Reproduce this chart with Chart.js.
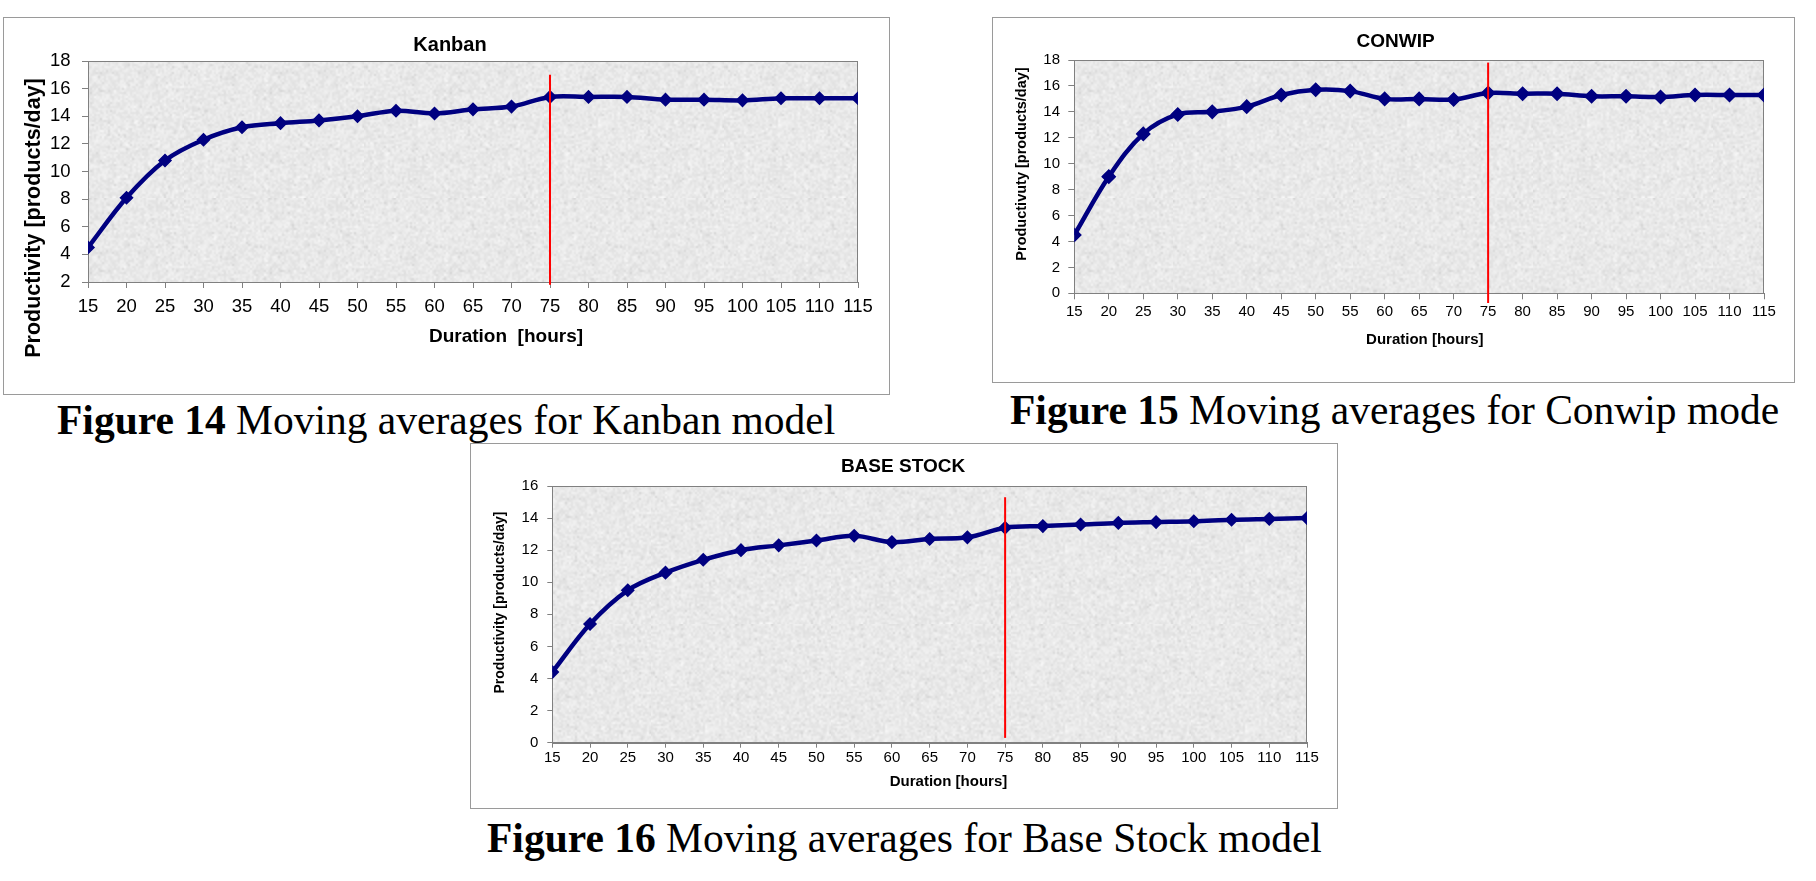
<!DOCTYPE html>
<html>
<head>
<meta charset="utf-8">
<script src="https://cdn.jsdelivr.net/npm/chart.js@4.4.1/dist/chart.umd.min.js"></script>
<style>
html,body{margin:0;padding:0;background:#fff;width:1816px;height:881px;overflow:hidden;}
.box{position:absolute;border:1px solid #9a9a9a;box-sizing:border-box;background:#fff;}
.box canvas{position:absolute;left:0;top:0;}
.cap{position:absolute;font-family:'Liberation Serif','Times New Roman',serif;font-size:41.5px;line-height:1;white-space:nowrap;color:#000;}
.cap b{font-weight:bold;}
</style>
</head>
<body>
<div class="box" style="left:3px;top:17px;width:887px;height:378px"><canvas id="c1" width="885" height="376"></canvas></div>
<div class="box" style="left:992px;top:17px;width:803px;height:366px"><canvas id="c2" width="801" height="364"></canvas></div>
<div class="box" style="left:470px;top:443px;width:868px;height:366px"><canvas id="c3" width="866" height="364"></canvas></div>
<div class="cap" style="left:57px;top:400px"><b>Figure 14</b> Moving averages for Kanban model</div>
<div class="cap" style="left:1010px;top:390px"><b>Figure 15</b> Moving averages for Conwip mode</div>
<div class="cap" style="left:487px;top:818px"><b>Figure 16</b> Moving averages for Base Stock model</div>
<script>
// ---- data ----
const hours = [15,20,25,30,35,40,45,50,55,60,65,70,75,80,85,90,95,100,105,110,115];
const kanbanValues = [4.5,8.1,10.8,12.3,13.2,13.5,13.7,14.0,14.4,14.2,14.5,14.7,15.4,15.4,15.4,15.2,15.2,15.15,15.3,15.3,15.3];
const conwipValues = [4.5,9.0,12.3,13.8,14.0,14.4,15.3,15.7,15.6,15.0,15.0,14.95,15.45,15.4,15.4,15.2,15.2,15.15,15.3,15.3,15.3];
const baseStockValues = [4.4,7.4,9.5,10.6,11.4,12.0,12.3,12.6,12.9,12.5,12.7,12.8,13.4,13.5,13.6,13.7,13.75,13.8,13.9,13.95,14.0];
const cutoffHour = 75;
const kanbanCutoff = [1.8, 17.0];
const conwipCutoff = [-0.75, 17.8];
const baseStockCutoff = [0.3, 15.3];
const chartTitles = ['Kanban', 'CONWIP', 'BASE STOCK'];
const yAxisTitles = ['Productivity [products/day]', 'Productivuty [products/day]', 'Productivity [products/day]'];
const xAxisTitles = ['Duration  [hours]', 'Duration [hours]', 'Duration [hours]'];
const kanbanYRange = [2, 18];
const conwipYRange = [0, 18];
const baseStockYRange = [0, 16];
const yTickStep = 2;
const xTickStep = 5;

const FONT = "'Liberation Sans', Arial, sans-serif";

// granite-like plot-area texture (deterministic speckle, style only)
function makeTexture() {
  const n = 90;
  const src = document.createElement('canvas');
  src.width = n; src.height = n;
  const g = src.getContext('2d');
  const img = g.createImageData(n, n);
  let s = 12345;
  function next() { s = (Math.imul(s, 1103515245) + 12345) >>> 0; return (s >>> 8) / 16777216; }
  for (let i = 0; i < n * n; i++) {
    const r = next();
    let v = 233 + Math.round((r - 0.5) * 18);
    const r2 = next();
    if (r2 < 0.05) v -= 14;
    else if (r2 > 0.95) v = Math.min(248, v + 10);
    img.data[i * 4] = v; img.data[i * 4 + 1] = v; img.data[i * 4 + 2] = v; img.data[i * 4 + 3] = 255;
  }
  g.putImageData(img, 0, 0);
  const c = document.createElement('canvas');
  c.width = n * 2; c.height = n * 2;
  const g2 = c.getContext('2d');
  g2.imageSmoothingEnabled = true;
  g2.drawImage(src, 0, 0, n * 2, n * 2);
  return c;
}
const textureCanvas = makeTexture();

const plotFrame = {
  id: 'plotFrame',
  beforeDraw(chart, args, o) {
    const {ctx, chartArea: a} = chart;
    ctx.save();
    ctx.fillStyle = ctx.createPattern(textureCanvas, 'repeat');
    ctx.fillRect(a.left, a.top, a.width, a.height);
    ctx.restore();
  },
  beforeDatasetsDraw(chart, args, o) {
    const {ctx, chartArea: a} = chart;
    ctx.save();
    ctx.strokeStyle = o.stroke;
    ctx.lineWidth = 1;
    ctx.strokeRect(Math.round(a.left) + 0.5, Math.round(a.top) + 0.5, Math.round(a.width) - 1, Math.round(a.height));
    ctx.restore();
  }
};

const freeTitles = {
  id: 'freeTitles',
  afterDraw(chart, args, o) {
    const ctx = chart.ctx;
    for (const t of o.items) {
      ctx.save();
      ctx.font = 'bold ' + t.size + 'px ' + FONT;
      ctx.fillStyle = '#000';
      ctx.textAlign = 'center';
      ctx.textBaseline = 'middle';
      ctx.translate(t.x, t.y);
      if (t.rot) ctx.rotate(t.rot);
      ctx.fillText(t.text, 0, 0);
      ctx.restore();
    }
  }
};

function build(id, idx, values, cutoff, yr, s) {
  return new Chart(document.getElementById(id), {
    type: 'line',
    data: {
      datasets: [
        {
          label: 'cutoff',
          data: [{x: cutoffHour, y: cutoff[0]}, {x: cutoffHour, y: cutoff[1]}],
          borderColor: '#ff0000', borderWidth: 2, pointRadius: 0, tension: 0, clip: false, order: 0
        },
        {
          label: chartTitles[idx],
          data: hours.map((h, i) => ({x: h, y: values[i]})),
          borderColor: '#000080', backgroundColor: '#000080', borderWidth: 4.5,
          pointStyle: 'rectRot', pointRadius: s.pr, pointBorderWidth: 1.5,
          pointBackgroundColor: '#000080', pointBorderColor: '#000080',
          tension: 0.35, order: 1
        }
      ]
    },
    options: {
      responsive: false, animation: false, devicePixelRatio: 1,
      layout: {padding: {left: s.L, right: s.R, top: 0, bottom: 0}},
      plugins: {
        legend: {display: false},
        tooltip: {enabled: false},
        title: {
          display: true, text: chartTitles[idx], color: '#000',
          font: {family: FONT, size: s.titleSize, weight: 'bold', lineHeight: 1.2},
          padding: {top: s.tpt, bottom: s.tpb}
        },
        plotFrame: {stroke: '#808080'},
        freeTitles: {items: [
          {text: yAxisTitles[idx], x: s.ytx, y: s.yty, size: s.ytSize, rot: -Math.PI / 2},
          {text: xAxisTitles[idx], x: s.xtx, y: s.xty, size: s.xtSize}
        ]}
      },
      scales: {
        x: {
          type: 'linear', min: hours[0], max: hours[hours.length - 1],
          afterFit: sc => { sc.height = s.xh; },
          ticks: {stepSize: xTickStep, autoSkip: false, maxRotation: 0, minRotation: 0, maxTicksLimit: 50,
                  padding: s.xpad, color: '#000', font: {family: FONT, size: s.tick}},
          grid: {drawOnChartArea: false, drawTicks: true, tickLength: s.tl, color: '#808080'},
          border: {display: true, color: '#808080'}
        },
        y: {
          min: yr[0], max: yr[1],
          afterFit: sc => { sc.width = s.yw; },
          ticks: {stepSize: yTickStep, padding: s.ypad, color: '#000', font: {family: FONT, size: s.tick}},
          grid: {drawOnChartArea: false, drawTicks: true, tickLength: s.tl, color: '#808080'},
          border: {display: true, color: '#808080'}
        }
      }
    },
    plugins: [plotFrame, freeTitles]
  });
}

build('c1', 0, kanbanValues, kanbanCutoff, kanbanYRange, {
  L: 38, R: 31, yw: 46, xh: 112, titleSize: 20, tpt: 15, tpb: 4, tick: 18.5, tl: 6,
  xpad: 7.6, ypad: 11.5, pr: 6,
  ytx: 30.5, yty: 200, ytSize: 21.5, xtx: 502, xty: 319, xtSize: 19
});
build('c2', 1, conwipValues, conwipCutoff, conwipYRange, {
  L: 34.2, R: 30, yw: 47.1, xh: 88.7, titleSize: 19, tpt: 12.3, tpb: 6.9, tick: 15, tl: 6,
  xpad: 3.4, ypad: 8.3, pr: 6.5,
  ytx: 28.7, yty: 146, ytSize: 14.5, xtx: 431.8, xty: 322, xtSize: 15
});
build('c3', 2, baseStockValues, baseStockCutoff, baseStockYRange, {
  L: 28, R: 30, yw: 53.3, xh: 65.3, titleSize: 19, tpt: 11.3, tpb: 7.9, tick: 15, tl: 5,
  xpad: 1.6, ypad: 9, pr: 6,
  ytx: 29, yty: 158.5, ytSize: 14, xtx: 477.5, xty: 338.3, xtSize: 15
});
</script>
</body>
</html>
